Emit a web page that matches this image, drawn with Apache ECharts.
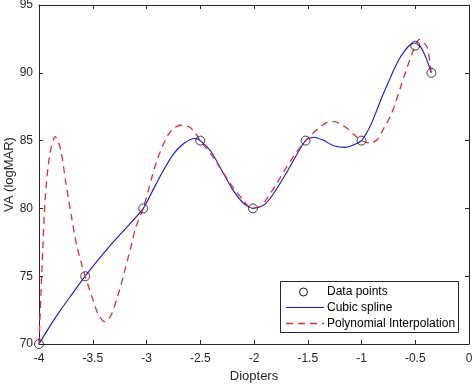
<!DOCTYPE html>
<html><head><meta charset="utf-8">
<script src="https://cdn.jsdelivr.net/npm/echarts@6/dist/echarts.min.js"></script>
<style>html,body{margin:0;padding:0;background:#fff}#c{width:474px;height:387px}</style>
</head><body><div id="c"></div>
<script>
const xTicks = ['-4','-3.5','-3','-2.5','-2','-1.5','-1','-0.5','0'];
const yTicks = ['70','75','80','85','90','95'];
const legendNames = ['Data points', 'Cubic spline', 'Polynomial Interpolation'];
const dataX = [-4, -3.57, -3.03, -2.5, -2.01, -1.52, -1, -0.5, -0.35];
const dataY = [70, 75, 80, 85, 80, 85, 85, 92, 90];
const splineX = [-4,-3.9,-3.8,-3.7,-3.57,-3.45,-3.3,-3.15,-3.03,-2.95,-2.85,-2.75,-2.65,-2.55,-2.5,-2.4,-2.3,-2.2,-2.1,-2.01,-1.9,-1.8,-1.7,-1.6,-1.52,-1.44,-1.35,-1.25,-1.15,-1.07,-1,-0.95,-0.9,-0.85,-0.8,-0.75,-0.7,-0.65,-0.6,-0.55,-0.505,-0.46,-0.425,-0.39,-0.35];
const splineY = [70,71.3,72.5,73.6,75,76.2,77.6,78.9,80,81.2,82.7,84.0,84.8,85.15,85.0,84.2,82.8,81.4,80.4,80,80.3,81.3,82.6,84,85,85.25,85.0,84.6,84.5,84.7,85,85.6,86.4,87.4,88.4,89.3,90.2,91.0,91.6,92.05,92.2,92.0,91.55,90.9,90];
const polyX = [-4,-3.97,-3.94,-3.9,-3.85,-3.8,-3.75,-3.7,-3.65,-3.6,-3.57,-3.5,-3.45,-3.39,-3.33,-3.25,-3.2,-3.15,-3.1,-3.03,-2.95,-2.9,-2.85,-2.8,-2.75,-2.67,-2.6,-2.55,-2.5,-2.4,-2.3,-2.2,-2.1,-2.03,-1.95,-1.9,-1.8,-1.7,-1.6,-1.52,-1.4,-1.3,-1.25,-1.15,-1.05,-1,-0.92,-0.85,-0.8,-0.72,-0.63,-0.53,-0.46,-0.39,-0.36,-0.35];
const polyY = [70,76,81,84,85.3,84.4,81.9,79.5,77.3,75.8,75,73.3,72.2,71.65,72.1,74.0,75.5,77,78.6,80,82.3,83.6,84.6,85.4,85.9,86.15,86.0,85.6,85,84.0,82.8,81.6,80.6,80.05,80.1,80.5,81.7,83.0,84.2,85,85.9,86.4,86.4,86.0,85.3,85,84.8,85.1,85.8,87.0,89.1,91.4,92.47,91.9,90.5,90];

const pts = (xs, ys) => xs.map((x, i) => [x, ys[i]]);
const txt = '#262626';
const font = 'Liberation Sans, Arial, sans-serif';
const blueCol = '#1010ff', redCol = '#ee2a2a';
const chart = echarts.init(document.getElementById('c'), null, {renderer: 'canvas'});
const axisCommon = {
  type: 'value',
  axisLine: {show: true, onZero: false, lineStyle: {color: txt, width: 1}},
  axisTick: {show: true, inside: true, length: 4, lineStyle: {color: txt}},
  splitLine: {show: false}
};
const lx = 286, ly = 292;
chart.setOption({
  animation: false,
  backgroundColor: '#fff',
  grid: {left: 39, right: 5, top: 5, bottom: 43, containLabel: false, outerBoundsMode: 'none'},
  xAxis: [
    Object.assign({}, axisCommon, {
      position: 'bottom', min: -4, max: 0, interval: 0.5,
      name: 'Diopters', nameLocation: 'middle', nameGap: 26, nameMoveOverlap: false,
      nameTextStyle: {color: txt, fontSize: 13, fontFamily: font},
      axisLabel: {color: txt, fontSize: 12, fontFamily: font, margin: 9,
        formatter: v => xTicks[Math.round((v + 4) / 0.5)]}
    }),
    Object.assign({}, axisCommon, {
      position: 'top', min: -4, max: 0, interval: 0.5, axisLabel: {show: false}
    })
  ],
  yAxis: [
    Object.assign({}, axisCommon, {
      position: 'left', min: 70, max: 95, interval: 5,
      name: 'VA (logMAR)', nameLocation: 'middle', nameGap: 23, nameMoveOverlap: false,
      nameTextStyle: {color: txt, fontSize: 13, fontFamily: font},
      axisLabel: {color: txt, fontSize: 12, fontFamily: font, margin: 6,
        formatter: v => yTicks[Math.round((v - 70) / 5)]}
    }),
    Object.assign({}, axisCommon, {
      position: 'right', min: 70, max: 95, interval: 5, axisLabel: {show: false}
    })
  ],
  graphic: [
    {type: 'rect', z: 100, shape: {x: 280.5, y: 281.5, width: 178, height: 51},
      style: {fill: '#fff', stroke: txt, lineWidth: 1}},
    {type: 'circle', z: 101, shape: {cx: 303.5, cy: ly, r: 4},
      style: {fill: 'none', stroke: '#111', lineWidth: 1}},
    {type: 'line', z: 101, shape: {x1: lx, y1: ly + 15.5, x2: 324, y2: ly + 15.5},
      style: {stroke: blueCol, lineWidth: 1}},
    {type: 'line', z: 101, shape: {x1: lx, y1: ly + 31.5, x2: 324, y2: ly + 31.5},
      style: {stroke: redCol, lineWidth: 1.3, lineDash: [7, 5]}},
    {type: 'text', z: 101, x: 327, y: ly, style: {text: legendNames[0], fill: '#000', font: '12px ' + font, textVerticalAlign: 'middle'}},
    {type: 'text', z: 101, x: 327, y: ly + 15.5, style: {text: legendNames[1], fill: '#000', font: '12px ' + font, textVerticalAlign: 'middle'}},
    {type: 'text', z: 101, x: 327, y: ly + 31.5, style: {text: legendNames[2], fill: '#000', font: '12px ' + font, textVerticalAlign: 'middle'}}
  ],
  series: [
    {
      name: legendNames[1], type: 'line', data: pts(splineX, splineY),
      smooth: 0.25, showSymbol: false, symbol: 'none', z: 2,
      lineStyle: {color: blueCol, width: 1.1}, itemStyle: {color: blueCol}
    },
    {
      name: legendNames[2], type: 'line', data: pts(polyX, polyY),
      smooth: 0.25, showSymbol: false, symbol: 'none', z: 3,
      lineStyle: {color: redCol, width: 1.3, type: [7, 5]}, itemStyle: {color: redCol}
    },
    {
      name: legendNames[0], type: 'scatter', data: pts(dataX, dataY),
      symbol: 'circle', symbolSize: 9, z: 4,
      itemStyle: {color: 'rgba(0,0,0,0)', borderColor: '#111', borderWidth: 1}
    }
  ]
});
</script></body></html>
